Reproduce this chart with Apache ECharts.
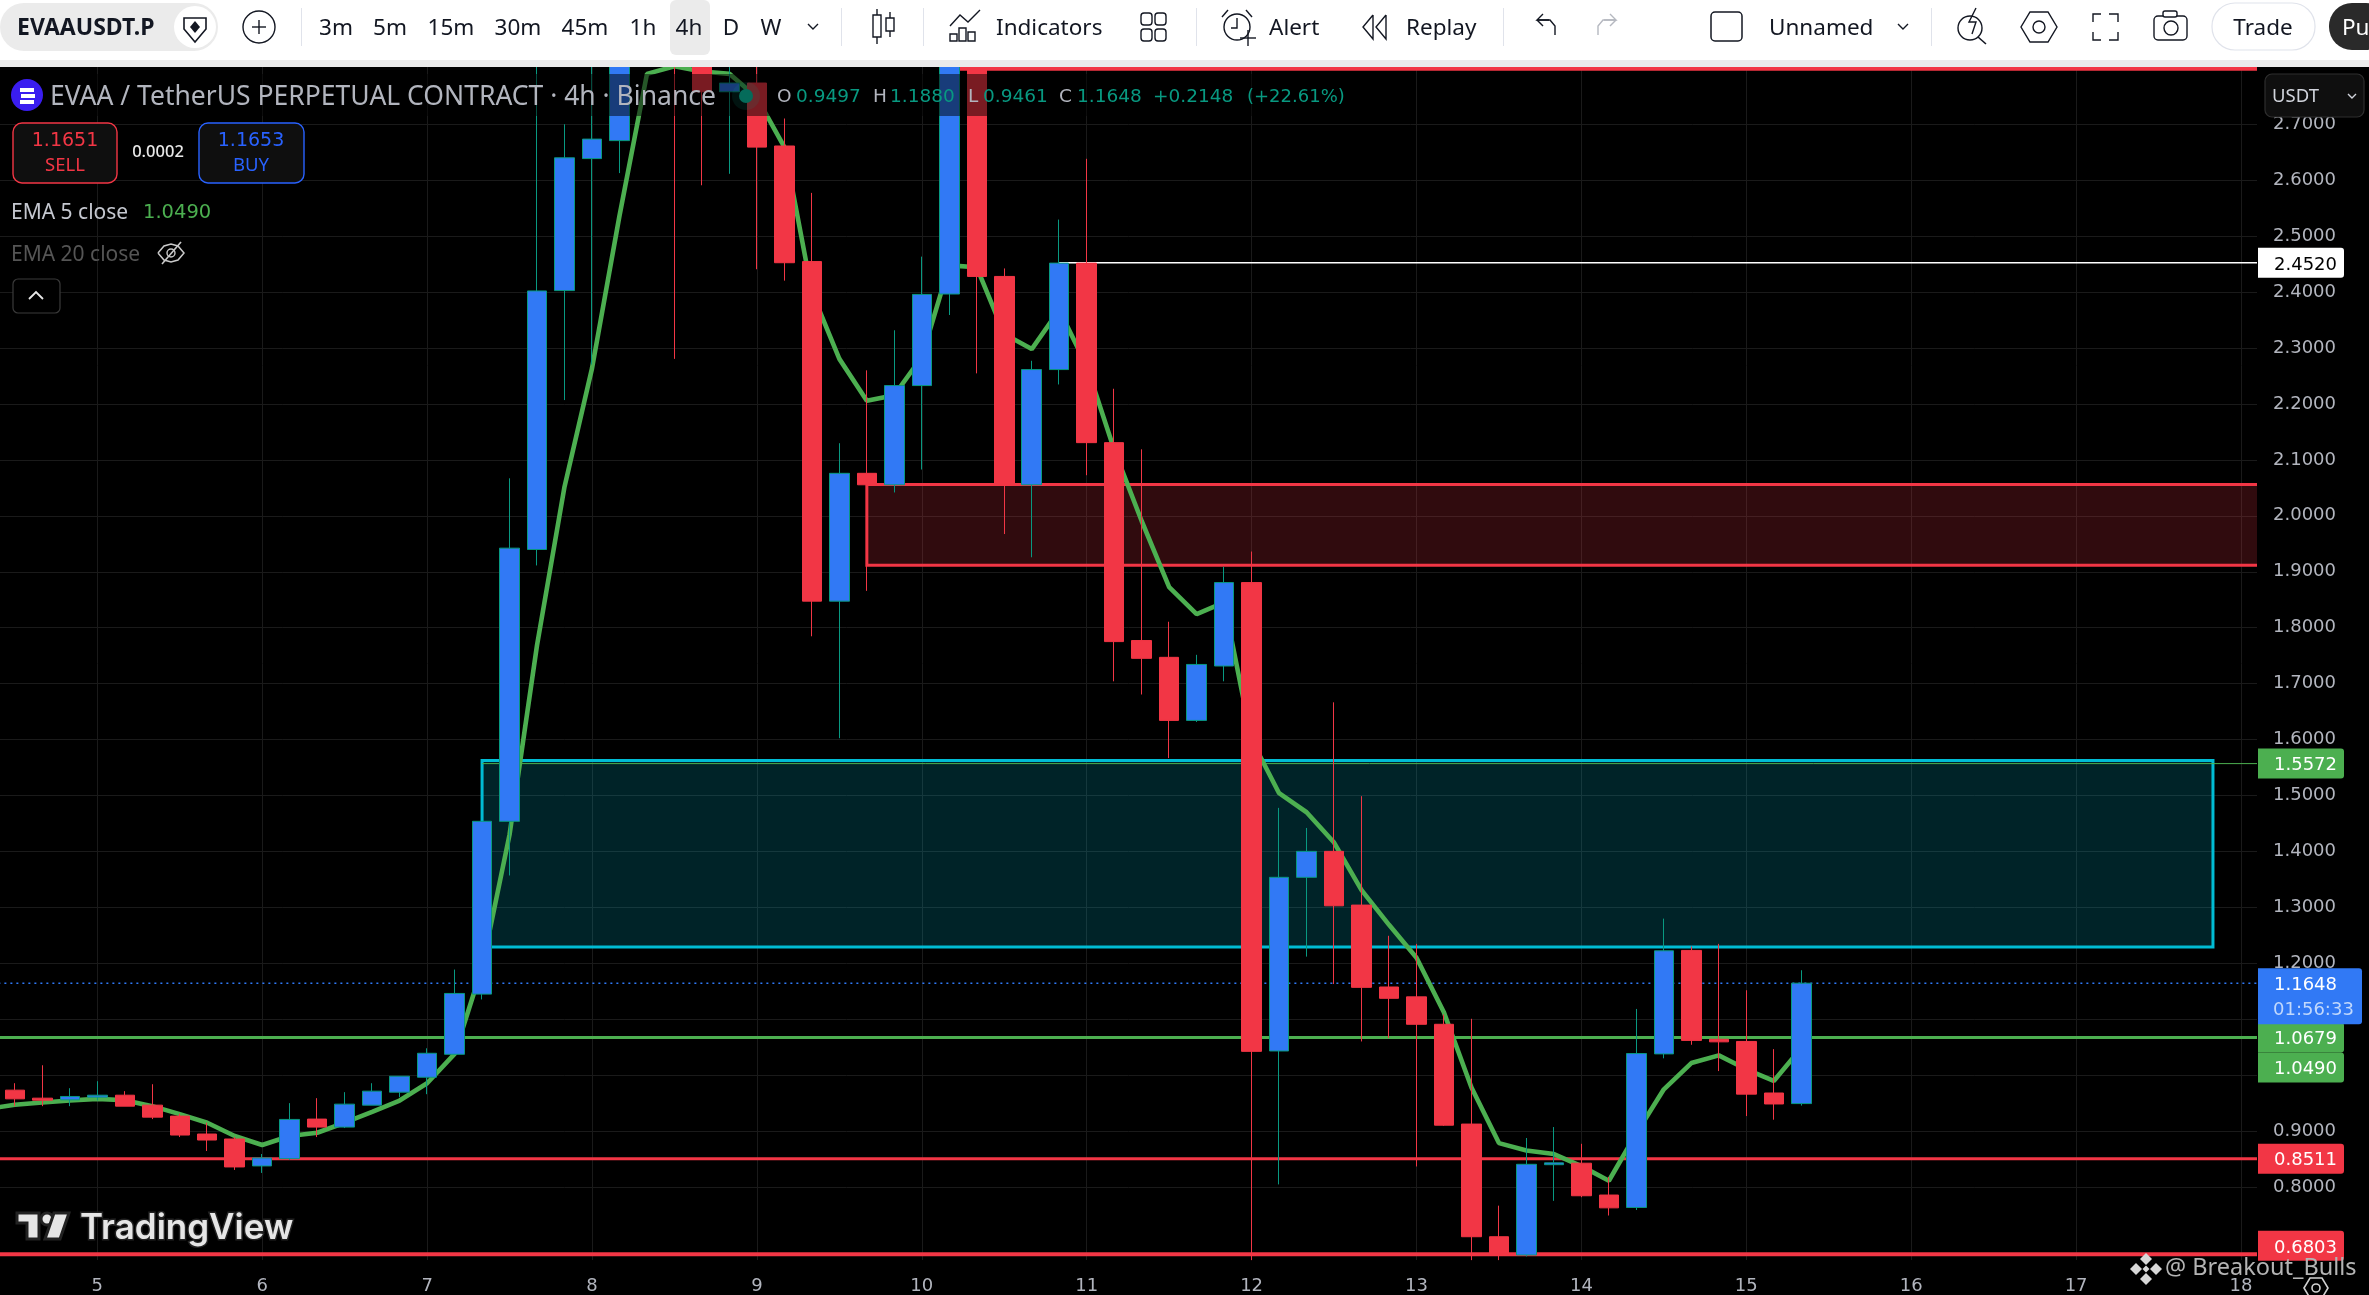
<!DOCTYPE html>
<html><head><meta charset="utf-8"><title>EVAAUSDT.P 4h</title>
<style>html,body{margin:0;padding:0;background:#000;overflow:hidden}#c{width:2369px;height:1295px}</style>
<script src="https://cdn.jsdelivr.net/npm/echarts@6/dist/echarts.min.js"></script>
</head><body><div id="c"></div>
<script>
// ---------- data ----------
const firstCandleDay = 4.5;            // 4h bars: six per day, axis unit = day of month
const barsPerDay = 6;
const open = [.9737,.9594,.9564,.9612,.9647,.9469,.9273,.8953,.8864,.8383,.8513,.9220,.9077,.9469,.9701,.9968,1.0378,1.1453,1.4541,1.9398,2.4024,2.6383,2.6704,2.87,3.0,2.9,2.7577,2.7733,2.6608,2.4543,1.8475,2.0759,2.0554,2.2327,2.3963,2.89,2.4277,2.0554,2.2613,2.4515,2.1307,1.7771,1.7471,1.6344,1.7316,1.8807,1.0437,1.3540,1.4004,1.3044,1.1580,1.1404,1.0914,.9131,.7118,.6792,.8405,.8432,.7863,.7641,1.0385,1.2234,1.0646,1.0607,.9686,.9497];
const close = [.9582,.9558,.9624,.9647,.9451,.9255,.8935,.8846,.8365,.8525,.9214,.9077,.9487,.9719,.9986,1.0396,1.1465,1.4541,1.9422,2.4018,2.6397,2.6731,2.86,2.95,2.9,2.7577,2.7733,2.6588,2.4522,1.8475,2.0759,2.0554,2.2327,2.3956,2.89,2.4277,2.0554,2.2613,2.4515,2.1307,1.7752,1.7453,1.6344,1.7344,1.8807,1.0430,1.3540,1.4004,1.3031,1.1574,1.1378,1.0914,.9111,.7118,.6805,.8412,.8438,.7850,.7634,1.0391,1.2227,1.0626,1.0600,.9666,.9490,1.1648];
const low = [.9451,.9451,.9451,.9552,.9451,.9220,.8899,.8650,.8311,.8258,.8489,.8899,.9060,.9469,.9612,.9665,1.0378,1.1358,1.3573,1.9113,2.2068,2.2702,2.6124,2.85,2.2804,2.5906,2.6111,2.4406,2.4202,1.7847,1.6026,1.8659,2.0417,2.0827,2.3588,2.2545,1.9674,1.9259,2.2347,2.0725,1.7043,1.6807,1.5671,1.6316,1.7043,.67,.8053,1.2123,1.1633,1.0607,1.0666,.8373,.9098,.67,.67,.6766,.7759,.7824,.7497,.7595,1.0306,1.0548,1.0078,.9274,.9209,.9461];
const high = [.9861,1.0182,.9772,.9897,.9719,.9843,.9315,.9155,.8899,.8596,.9505,.9594,.9701,.9861,.9986,1.0485,1.1892,1.4541,2.0670,2.86,2.6997,2.86,2.9,3.0,3.05,2.95,2.86,2.86,2.7099,2.5770,2.1297,2.2599,2.3315,2.4631,2.92,2.92,2.4420,2.2770,2.5293,2.6379,2.2270,2.1188,1.8107,1.7516,1.9089,1.9361,1.4781,1.4422,1.6667,1.4990,1.2495,1.2351,1.1090,1.1012,.7673,.8882,.9078,.8778,.8183,1.1188,1.2802,1.2305,1.2351,1.1522,1.0470,1.1880];
const ema5 = [.9404,.9475,.9517,.9552,.9582,.9558,.9451,.9309,.9155,.8917,.8757,.8917,.8976,.9155,.9350,.9552,.9861,1.0384,1.1928,1.4303,1.7688,2.0520,2.2634,2.5361,2.7897,2.8033,2.7938,2.7897,2.7474,2.6588,2.3997,2.2804,2.2054,2.2156,2.2838,2.4474,2.4440,2.3247,2.2979,2.3679,2.2679,2.1179,1.9907,1.8725,1.8243,1.8452,1.5998,1.5043,1.4703,1.4161,1.3311,1.2691,1.2103,1.1123,.9784,.8791,.8660,.8595,.8379,.8118,.8967,.9752,1.0221,1.0359,1.0110,.9901,1.0490];
const dayTicks = [5,6,7,8,9,10,11,12,13,14,15,16,17,18];
const priceTicks = [.8,.9,1.0,1.1,1.2,1.3,1.4,1.5,1.6,1.7,1.8,1.9,2.0,2.1,2.2,2.3,2.4,2.5,2.6,2.7];
const zoneStart = [7.3333,9.6667], zoneEnd = [17.83,18.3], zoneTop = [1.5627,2.0561], zoneBottom = [1.2296,1.9116];
const levelPrice = [1.0679,.8511,.6803,2.7990,2.4520,1.5572,1.1648];
const levelStart = [4.4,4.4,4.4,10.1667,10.8333,7.3333,4.4];
const tagPrice = [2.4520,1.5572,1.0679,1.0490,.8511,.6803,1.1648];
const tagText = ['2.4520','1.5572','1.0679','1.0490','0.8511','0.6803','1.1648'];
const countdown = '01:56:33';
const timeframes = ['3m','5m','15m','30m','45m','1h','4h','D','W'];
// ---------- styles ----------
const C = {up:'#3179f5',upB:'#089981',dn:'#f23645',green:'#4caf50',cyan:'#00bcd4',axis:'#b2b5be',grid:'#1a1a1a'};
const NUM = 'DejaVu Sans', UI = '"Noto Sans"';
const zoneStyle = [{fill:'rgba(0,188,212,.19)',stroke:C.cyan},{fill:'rgba(242,54,69,.2)',stroke:C.dn}];
const levelStyle = [[C.green,3],[C.dn,3],[C.dn,4],[C.dn,4],['#ffffff',1.5],[C.green,1],['#2f78f5',1.5,[2,4]]];
const tagStyle = [['#ffffff','#000',0],[C.green,'#fff',0],[C.green,'#fff',0],[C.green,'#fff',19.5],[C.dn,'#fff',0],[C.dn,'#fff',-8.5],[C.up,'#fff',12.5]];
const X_MIN = 4.4099, X_MAX = 18.097, Y_MIN = .67021, Y_MAX = 2.80195;
const dayOf = i => firstCandleDay + i / barsPerDay;
const candles = open.map((o,i)=>[dayOf(i),o,close[i],low[i],high[i]]);
const emaData = ema5.map((v,i)=>[dayOf(i-1),v]);

// ---------- chrome (toolbar, legend, watermark) ----------
const Z = 100;
const g = [];
const t = (text,x,y,size,fill,o={}) => g.push({type:'text',silent:true,z:o.z||Z+2,style:{text,x,y,fill,font:`${o.weight||'normal'} ${size}px ${o.font||UI}`,textAlign:o.align||'left',align:o.align||'left',textVerticalAlign:'middle',verticalAlign:'middle',stroke:o.stroke,lineWidth:o.lw||0}});
const r = (x,y,w,h,fill,o={}) => g.push({type:'rect',silent:true,z:o.z||Z,shape:{x,y,width:w,height:h,r:o.r||0},style:{fill,stroke:o.stroke||null,lineWidth:o.lw||1}});
const pl = (pts,stroke,lw=1.6) => g.push({type:'polyline',silent:true,z:Z+2,shape:{points:pts},style:{fill:null,stroke,lineWidth:lw}});
const pg = (pts,fill,o={}) => g.push({type:'polygon',silent:true,z:o.z||Z+2,shape:{points:pts},style:{fill,stroke:o.stroke||null,lineWidth:o.lw||1}});
const ci = (cx,cy,R,fill,stroke,lw=1.6) => g.push({type:'circle',silent:true,z:Z+2,shape:{cx,cy,r:R},style:{fill:fill||null,stroke:stroke||null,lineWidth:lw}});
const ink = '#131722', TB = 22.5, TY = 28.5;
r(0,0,2369,60,'#fff'); r(0,60,2369,7,'#ebebeb');
// symbol pill
r(0,3,218,48,'#ebebeb',{r:24}); ci(195,27,21,'#fff');
t('EVAAUSDT.P',17,TY,23,ink,{weight:'bold'});
pg([[184,18],[206,18],[206,29],[195,42],[184,29]],'#fff',{stroke:ink,lw:1.6}); pg([[195,21],[200,27],[195,33],[190,27]],ink);
ci(259,27,16,null,ink,1.4); pl([[252,27],[266,27]],ink,1.4); pl([[259,20],[259,34]],ink,1.4);
[301,841,923,1196,1503,1931].forEach(x=>r(x,8,1,38,'#e0e3eb'));
r(670,0,40,55,'#ebebeb',{r:6});
[336,390,451,518,585,643,689,731,771].forEach((x,i)=>t(timeframes[i],x,TY,TB,ink,{align:'center'}));
pl([[808,24],[813,29],[818,24]],ink,1.4);
// candle icon
pl([[877,9],[877,44]],ink,1.4); r(873,15,8,22,'#fff',{stroke:ink,lw:1.4,z:Z+3}); pl([[890,12],[890,37]],ink,1.4); r(886,18,8,13,'#fff',{stroke:ink,lw:1.4,z:Z+3});
// indicators icon
pl([[950,26],[960,15],[968,22],[980,10]],ink,1.4); [[950,34,7],[959,28,7],[968,32,7]].forEach(b=>r(b[0],b[1],b[2],41-b[1],'#fff',{stroke:ink,lw:1.4,z:Z+3}));
t('Indicators',996,TY,TB,ink);
[[1141,13],[1155,13],[1141,29],[1155,29]].forEach(b=>r(b[0],b[1],11,12,'#fff',{stroke:ink,lw:1.4,r:3,z:Z+3}));
// alert, replay
ci(1237,27,13,null,ink,1.4); pl([[1237,18],[1237,28],[1231,28]],ink,1.4); pl([[1240,38],[1256,38]],ink,1.4); pl([[1248,30],[1248,46]],ink,1.4); pl([[1222,17],[1228,10]],ink,1.4);pl([[1252,17],[1246,10]],ink,1.4);
t('Alert',1269,TY,TB,ink);
pl([[1373,15],[1363,27],[1373,39],[1373,15]],ink,1.4); pl([[1386,15],[1376,27],[1386,39],[1386,15]],ink,1.4);
t('Replay',1406,TY,TB,ink);
pl([[1549,20],[1537,20],[1543,14]],ink,1.4); pl([[1537,20],[1543,26]],ink,1.4); pl([[1537,20],[1550,20],[1555,26],[1555,35]],ink,1.4);
pl([[1604,20],[1616,20],[1610,14]],'#b5b8c0',1.4); pl([[1616,20],[1610,26]],'#b5b8c0',1.4); pl([[1616,20],[1603,20],[1598,26],[1598,35]],'#b5b8c0',1.4);
r(1711,12,31,29,'#fff',{stroke:ink,lw:1.5,r:4});
t('Unnamed',1769,TY,TB,ink); pl([[1898,24],[1903,29],[1908,24]],ink,1.4);
// right icons
ci(1970,28,12,null,ink,1.4); pl([[1978,37],[1986,44]],ink,1.6); pl([[1976,8],[1969,22],[1976,22],[1972,34]],ink,1.4);
pg([[2030,12],[2048,12],[2057,27],[2048,42],[2030,42],[2021,27]],'#fff',{stroke:ink,lw:1.4}); ci(2039,27,6,null,ink,1.4);
[[[2093,22],[2093,14],[2101,14]],[[2109,14],[2118,14],[2118,22]],[[2093,32],[2093,40],[2101,40]],[[2109,40],[2118,40],[2118,32]]].forEach(p=>pl(p,ink,1.4));
r(2154,16,33,24,'#fff',{stroke:ink,lw:1.4,r:4}); r(2163,11,14,6,'#fff',{stroke:ink,lw:1.4,r:2}); ci(2171,28,7,null,ink,1.4);
r(2212,3,103,47,'#fff',{stroke:'#e0e3eb',lw:1.2,r:23}); t('Trade',2263,TY,TB,ink,{align:'center'});
r(2329,3,60,47,'#2a2a2a',{r:23}); t('Pu',2342,TY,TB,'#fff');
// legend band over the candles
r(8,74,1337,42,'rgba(0,0,0,.5)',{z:Z-1});
ci(27,95,16,'#3a1df0'); [[20,88],[21,94],[20,100]].forEach(b=>r(b[0],b[1],14,4,'#fff',{z:Z+3}));
t('EVAA / TetherUS PERPETUAL CONTRACT · 4h · Binance',50,97,26.5,C.axis);
ci(746,96,14,'rgba(8,153,129,.12)'); ci(746,96,7,'#056b5a');
[['O',777,'0.9497',19],['H',873,'1.1880',17],['L',968,'0.9461',15],['C',1059,'1.1648',18]].forEach(a=>{
  t(a[0],a[1],97,18.5,C.axis,{font:NUM}); t(a[2],a[1]+a[3],97,18.5,'#089981',{font:NUM});
});
t('+0.2148',1153,97,18.5,'#089981',{font:NUM}); t('(+22.61%)',1247,97,18,'#089981',{font:NUM});
r(13,123,104,60,'#0f0f0f',{stroke:C.dn,lw:1.4,r:9,z:Z+1}); t('1.1651',65,141,19,C.dn,{font:NUM,align:'center'}); t('SELL',65,166,18.5,C.dn,{align:'center'});
t('0.0002',158,152,16.5,'#e8e8e8',{align:'center',weight:'500'});
r(199,123,105,60,'#0f0f0f',{stroke:'#2962ff',lw:1.4,r:9,z:Z+1}); t('1.1653',251,141,19,'#2962ff',{font:NUM,align:'center'}); t('BUY',251,166,18.5,'#2962ff',{align:'center'});
t('EMA 5 close',11,213,21,'#c4c7cf'); t('1.0490',143,213,19.5,C.green,{font:NUM});
t('EMA 20 close',11,255,21,'#555555');
pl([[158,253],[164,246],[171,244],[178,246],[184,253],[178,260],[171,262],[164,260],[158,253]],'#c9c9c9',1.5); ci(171,253,4,null,'#c9c9c9',1.4); pl([[162,264],[181,242]],'#c9c9c9',1.6);
r(13,279,47,34,'#000',{stroke:'#3a3a3a',lw:1.2,r:5,z:Z+1}); pl([[29,299],[36,292],[43,299]],'#e8e8e8',1.8);
r(2265,74,99,43,'#0f0f0f',{stroke:'#2e2e2e',lw:1.2,r:7,z:Z+1}); t('USDT',2272,97,18.5,'#d1d4dc'); pl([[2348,94],[2352,98],[2356,94]],'#d1d4dc',1.4);
// TradingView watermark
pg([[17,1213],[39,1213],[39,1239],[27,1239],[27,1223],[17,1223]],'#e6e6e6',{stroke:'#222',lw:3}); ci(47,1219,6,'#e6e6e6','#222',3); pg([[54,1213],[69,1213],[60,1239],[45,1239]],'#e6e6e6',{stroke:'#222',lw:3});
t('TradingView',80,1228,35,'#e6e6e6',{weight:'600',font:'Inter',stroke:'#222',lw:3});
// author tag
[[2146,1259],[2136,1269],[2156,1269],[2146,1279],[2146,1269]].forEach((p,i)=>{const s=i===4?3.5:6;pg([[p[0],p[1]-s],[p[0]+s,p[1]],[p[0],p[1]+s],[p[0]-s,p[1]]],'#d8d8d8');});
t('@ Breakout_Bulls',2165,1268,23.5,'#b4b4b4',{z:Z+3});
pg([[2304,1288],[2310,1278],[2322,1278],[2328,1288],[2322,1298],[2310,1298]],'#000',{stroke:'#d0d0d0',lw:1.6}); ci(2316,1288,4,null,'#d0d0d0',1.6);

// ---------- chart ----------
const chart = echarts.init(document.getElementById('c'),null,{renderer:'canvas',width:2369,height:1295});
const opt = {
  animation:false, backgroundColor:'#000', graphic:{elements:g},
  grid:{left:0,right:112,top:67,bottom:32,containLabel:false},
  xAxis:{type:'value',min:X_MIN,max:X_MAX,axisLine:{show:false},
    axisTick:{show:false,customValues:dayTicks},
    axisLabel:{customValues:dayTicks,color:C.axis,fontFamily:NUM,fontSize:18,margin:17,formatter:v=>String(v)},
    splitLine:{show:true,lineStyle:{color:C.grid,width:1}}},
  yAxis:{type:'value',position:'right',min:Y_MIN,max:Y_MAX,axisLine:{show:false},
    axisTick:{show:false,customValues:priceTicks},
    axisLabel:{customValues:priceTicks,color:C.axis,fontFamily:NUM,fontSize:18,margin:16,padding:[5,0,0,0],formatter:v=>v.toFixed(4)},
    splitLine:{show:true,lineStyle:{color:C.grid,width:1}}},
  series:[
    {name:'Zones',type:'custom',z:1,clip:true,silent:true,coordinateSystem:'cartesian2d',
      data:zoneStart.map((s,i)=>[s,zoneTop[i],zoneEnd[i],zoneBottom[i]]),
      encode:{x:[0,2],y:[1,3]},
      renderItem(p,api){
        const a=api.coord([api.value(0),api.value(1)]), b=api.coord([api.value(2),api.value(3)]), st=zoneStyle[p.dataIndex];
        return {type:'rect',shape:{x:a[0],y:a[1],width:b[0]-a[0],height:b[1]-a[1]},style:{fill:st.fill,stroke:st.stroke,lineWidth:3}};
      }},
    {name:'Levels',type:'custom',z:2,clip:true,silent:true,
      data:levelPrice.map((v,i)=>[levelStart[i],v]),encode:{x:0,y:1},
      renderItem(p,api){
        const a=api.coord([api.value(0),api.value(1)]), b=api.coord([X_MAX,api.value(1)]), st=levelStyle[p.dataIndex];
        return {type:'line',shape:{x1:a[0],y1:a[1],x2:b[0],y2:b[1]},style:{stroke:st[0],lineWidth:st[1],lineDash:st[2]||null}};
      }},
    {name:'EMA 5 close',type:'line',z:3,data:emaData,symbol:'none',smooth:false,clip:true,silent:true,lineStyle:{color:C.green,width:4.6}},
    {name:'EVAAUSDT.P',type:'candlestick',z:4,clip:true,silent:true,barWidth:20,data:candles,encode:{x:0,y:[1,2,3,4]},
      itemStyle:{color:C.up,color0:C.dn,borderColor:C.upB,borderColor0:C.dn,borderWidth:1}},
    {name:'Price tags',type:'custom',z:6,clip:false,silent:true,
      data:tagPrice.map((v,i)=>[X_MAX,v]),encode:{x:0,y:1},
      renderItem(p,api){
        const i=p.dataIndex, c=api.coord([api.value(0),api.value(1)]), st=tagStyle[i], y=c[1]+st[2], blue=i===6;
        const h=blue?56:30, w=blue?104:86;
        const kids=[{type:'rect',shape:{x:c[0]+1,y:y-(blue?27.5:15),width:w,height:h,r:[0,3,3,0]},style:{fill:st[0]}}];
        const ty=(blue?c[1]:y)+2;
        kids.push({type:'text',style:{text:tagText[i],x:c[0]+17,y:ty,fill:st[1],font:`18px ${NUM}`,textVerticalAlign:'middle',verticalAlign:'middle'}});
        if(blue)kids.push({type:'text',style:{text:countdown,x:c[0]+16,y:ty+25.5,fill:'#c1d8fc',font:`18px ${NUM}`,textVerticalAlign:'middle',verticalAlign:'middle'}});
        return {type:'group',children:kids};
      }}
  ]
};
chart.setOption(opt);
</script></body></html>
